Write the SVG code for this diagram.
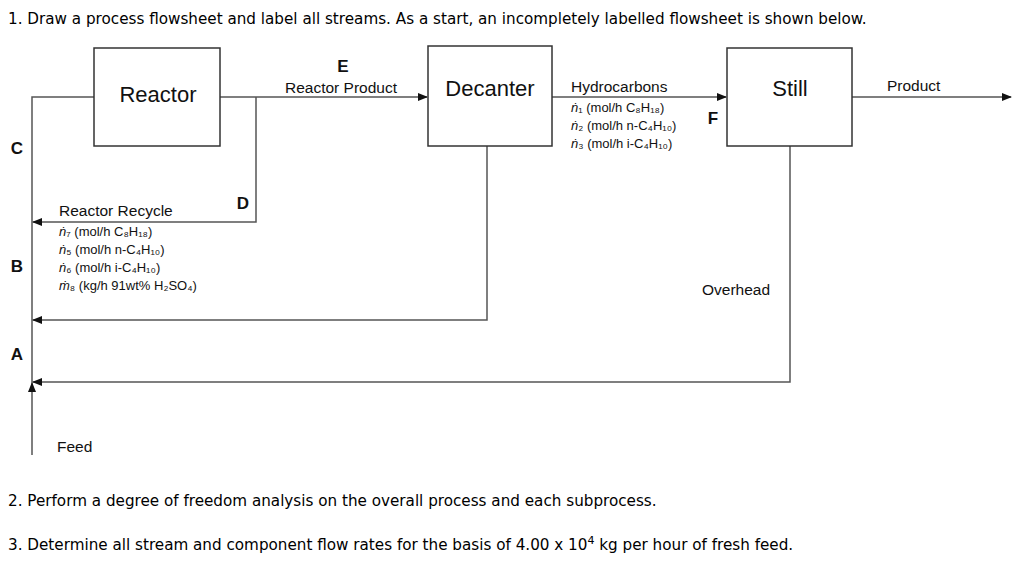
<svg xmlns="http://www.w3.org/2000/svg" width="1024" height="577" viewBox="0 0 1024 577">
<style>
.q{font-family:Verdana,"DejaVu Sans",sans-serif;font-size:15.2px;fill:#000}
.b{font-family:"Liberation Sans",Arial,sans-serif;fill:#111}
.box{fill:#fff;stroke:#333;stroke-width:1.5}
.ln{fill:none;stroke:#555;stroke-width:1.5}
.s{font-size:13px}
.L{font-family:"Liberation Sans",Arial,sans-serif;font-weight:bold;font-size:17px}
</style>
<defs><marker id="a" markerWidth="10" markerHeight="8" refX="9" refY="4" orient="auto" markerUnits="userSpaceOnUse"><path d="M0,0 L10,4 L0,8 Z" fill="#111"/></marker></defs>
<rect width="1024" height="577" fill="#fff"/>
<text class="q" x="8" y="24">1. Draw a process flowsheet and label all streams. As a start, an incompletely labelled flowsheet is shown below.</text>
<text class="q" x="8" y="506">2. Perform a degree of freedom analysis on the overall process and each subprocess.</text>
<text class="q" x="8" y="550">3. Determine all stream and component flow rates for the basis of 4.00 x 10<tspan dy="-6" font-size="11">4</tspan><tspan dy="6"> kg per hour of fresh feed.</tspan></text>
<g id="connectors">
<path class="ln" d="M32,455 V383"  marker-end="url(#a)"/>
<path class="ln" d="M32,383 V97 H94"/>
<path class="ln" d="M220,97 H427" marker-end="url(#a)"/>
<path class="ln" d="M256,97 V222 H33" marker-end="url(#a)"/>
<path class="ln" d="M487,146 V320 H33" marker-end="url(#a)"/>
<path class="ln" d="M552,97 H726" marker-end="url(#a)"/>
<path class="ln" d="M852,97 H1011" marker-end="url(#a)"/>
<path class="ln" d="M790,146 V382 H33" marker-end="url(#a)"/>
</g>
<g id="reactor"><rect class="box" x="94" y="48" width="126" height="98"/><text class="b" x="158" y="102" font-size="22" text-anchor="middle">Reactor</text></g>
<g id="decanter"><rect class="box" x="428" y="46" width="124" height="100"/><text class="b" x="490" y="96" font-size="22" text-anchor="middle">Decanter</text></g>
<g id="still"><rect class="box" x="727" y="48" width="125" height="98"/><text class="b" x="790" y="96" font-size="22" text-anchor="middle">Still</text></g>
<g class="b">
<text x="343" y="72" class="L" text-anchor="middle">E</text>
<text x="285" y="93" font-size="15.5">Reactor Product</text>
<text x="571" y="92" font-size="15.5">Hydrocarbons</text>
<text x="571" y="112" class="s"><tspan font-style="italic">ṅ</tspan>₁ (mol/h C₈H₁₈)</text>
<text x="571" y="130" class="s"><tspan font-style="italic">ṅ</tspan>₂ (mol/h n-C₄H₁₀)</text>
<text x="571" y="148" class="s"><tspan font-style="italic">ṅ</tspan>₃ (mol/h i-C₄H₁₀)</text>
<text x="713" y="124" class="L" text-anchor="middle">F</text>
<text x="887" y="91" font-size="15.5">Product</text>
<text x="17" y="154" class="L" text-anchor="middle">C</text>
<text x="17" y="272" class="L" text-anchor="middle">B</text>
<text x="17" y="360" class="L" text-anchor="middle">A</text>
<text x="243" y="209" class="L" text-anchor="middle">D</text>
<text x="59" y="216" font-size="15.5">Reactor Recycle</text>
<text x="59" y="236" class="s"><tspan font-style="italic">ṅ</tspan>₇ (mol/h C₈H₁₈)</text>
<text x="59" y="254" class="s"><tspan font-style="italic">ṅ</tspan>₅ (mol/h n-C₄H₁₀)</text>
<text x="59" y="272" class="s"><tspan font-style="italic">ṅ</tspan>₆ (mol/h i-C₄H₁₀)</text>
<text x="59" y="290" class="s"><tspan font-style="italic">ṁ</tspan>₈ (kg/h 91wt% H₂SO₄)</text>
<text x="702" y="295" font-size="15.5">Overhead</text>
<text x="57" y="452" font-size="15.5">Feed</text>
</g>
</svg>
